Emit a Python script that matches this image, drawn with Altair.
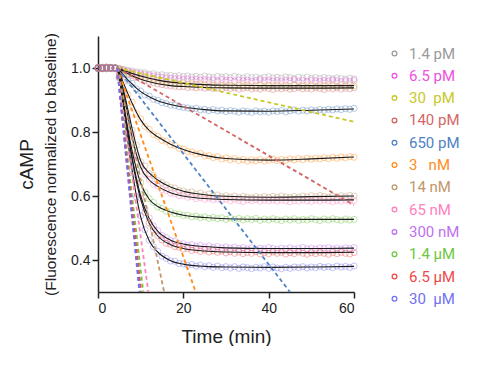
import altair as alt
import pandas as pd

# ---------------- data ----------------
series = ["1.4 pM", "6.5 pM", "30\u00a0\u00a0pM", "140 pM", "650 pM", "3\u00a0\u00a0\u00a0nM",
          "14 nM", "65 nM", "300 nM", "1.4 µM", "6.5 µM", "30\u00a0\u00a0µM"]
colors = ["#9a9a9a", "#f050e0", "#c8c828", "#d46666", "#4f82c4", "#ff8c1a",
          "#c0966a", "#ff80c0", "#c070f0", "#6cc83c", "#f04848", "#7070f0"]

times = list(range(61))  # minutes

obs_1p4pM = [1.002, 0.998, 1.003, 0.999, 1.001,
             0.998, 0.996, 0.992, 0.991, 0.988, 0.986,
             0.985, 0.981, 0.982, 0.978, 0.979, 0.976, 0.977, 0.974, 0.976, 0.973,
             0.975, 0.972, 0.974, 0.971, 0.975, 0.972, 0.970, 0.974, 0.971, 0.973,
             0.970, 0.974, 0.971, 0.969, 0.973, 0.970, 0.972, 0.968, 0.971, 0.973,
             0.969, 0.971, 0.968, 0.972, 0.970, 0.967, 0.971, 0.969, 0.972, 0.968,
             0.970, 0.967, 0.970, 0.968, 0.966, 0.969, 0.967, 0.965, 0.968, 0.966]
obs_6p5pM = [0.999, 1.002, 0.998, 1.001, 0.999,
             0.997, 0.993, 0.990, 0.986, 0.984, 0.981,
             0.979, 0.976, 0.975, 0.972, 0.971, 0.969, 0.968, 0.966, 0.967, 0.964,
             0.966, 0.963, 0.965, 0.962, 0.964, 0.961, 0.963, 0.960, 0.964, 0.961,
             0.962, 0.959, 0.963, 0.960, 0.962, 0.958, 0.961, 0.963, 0.960, 0.962,
             0.959, 0.961, 0.958, 0.962, 0.960, 0.963, 0.959, 0.961, 0.958, 0.962,
             0.960, 0.958, 0.961, 0.959, 0.962, 0.960, 0.957, 0.960, 0.958, 0.961]
obs_30pM = [1.001, 0.998, 1.002, 0.999, 1.000,
            0.997, 0.994, 0.987, 0.984, 0.978, 0.976,
            0.971, 0.967, 0.966, 0.961, 0.960, 0.957, 0.955, 0.954, 0.951, 0.953,
            0.949, 0.950, 0.948, 0.949, 0.947, 0.949, 0.945, 0.947, 0.944, 0.947,
            0.945, 0.943, 0.946, 0.944, 0.947, 0.943, 0.945, 0.946, 0.943, 0.945,
            0.944, 0.947, 0.943, 0.945, 0.942, 0.946, 0.944, 0.943, 0.946, 0.944,
            0.942, 0.945, 0.943, 0.946, 0.944, 0.942, 0.945, 0.943, 0.946, 0.944]
obs_140pM = [0.999, 1.002, 0.998, 1.001, 0.999,
             0.996, 0.990, 0.982, 0.977, 0.970, 0.965,
             0.962, 0.956, 0.954, 0.950, 0.948, 0.946, 0.944, 0.943, 0.941, 0.942,
             0.939, 0.940, 0.938, 0.940, 0.937, 0.939, 0.936, 0.938, 0.935, 0.939,
             0.936, 0.938, 0.934, 0.937, 0.939, 0.935, 0.937, 0.934, 0.938, 0.936,
             0.933, 0.937, 0.935, 0.938, 0.934, 0.936, 0.939, 0.935, 0.937, 0.934,
             0.938, 0.936, 0.933, 0.937, 0.935, 0.938, 0.934, 0.937, 0.935, 0.938]
obs_650pM = [1.001, 0.998, 1.002, 0.999, 1.001,
             0.992, 0.979, 0.961, 0.952, 0.935, 0.928,
             0.916, 0.912, 0.902, 0.899, 0.892, 0.889, 0.884, 0.883, 0.879, 0.877,
             0.875, 0.872, 0.874, 0.869, 0.871, 0.867, 0.870, 0.866, 0.868, 0.864,
             0.867, 0.865, 0.862, 0.866, 0.864, 0.861, 0.866, 0.863, 0.865, 0.862,
             0.866, 0.864, 0.867, 0.863, 0.866, 0.869, 0.865, 0.868, 0.866, 0.869,
             0.867, 0.870, 0.868, 0.871, 0.869, 0.872, 0.870, 0.873, 0.871, 0.874]
obs_3nM = [0.999, 1.002, 0.998, 1.001, 0.999,
           0.983, 0.955, 0.917, 0.893, 0.858, 0.841,
           0.818, 0.808, 0.792, 0.787, 0.774, 0.771, 0.760, 0.758, 0.749, 0.747,
           0.739, 0.738, 0.731, 0.733, 0.725, 0.726, 0.720, 0.723, 0.716, 0.719,
           0.713, 0.717, 0.711, 0.714, 0.709, 0.713, 0.710, 0.714, 0.709, 0.712,
           0.715, 0.711, 0.714, 0.712, 0.716, 0.713, 0.717, 0.714, 0.718, 0.715,
           0.718, 0.716, 0.720, 0.717, 0.721, 0.718, 0.722, 0.719, 0.723, 0.721]
obs_14nM = [1.001, 0.998, 1.002, 0.999, 1.000,
            0.983, 0.928, 0.874, 0.806, 0.759, 0.707,
            0.694, 0.669, 0.664, 0.648, 0.642, 0.634, 0.627, 0.625, 0.617, 0.616,
            0.611, 0.613, 0.606, 0.609, 0.603, 0.606, 0.600, 0.603, 0.598, 0.601,
            0.597, 0.600, 0.595, 0.599, 0.596, 0.594, 0.598, 0.595, 0.599, 0.596,
            0.599, 0.596, 0.600, 0.597, 0.595, 0.599, 0.596, 0.600, 0.597, 0.601,
            0.598, 0.602, 0.599, 0.596, 0.600, 0.597, 0.601, 0.598, 0.602, 0.600]
obs_65nM = [0.998, 1.001, 0.999, 1.002, 0.998,
            0.978, 0.923, 0.846, 0.789, 0.726, 0.693,
            0.668, 0.652, 0.637, 0.631, 0.620, 0.617, 0.609, 0.607, 0.601, 0.602,
            0.596, 0.598, 0.592, 0.595, 0.590, 0.593, 0.588, 0.591, 0.587, 0.590,
            0.585, 0.589, 0.586, 0.583, 0.588, 0.585, 0.589, 0.584, 0.587, 0.585,
            0.588, 0.584, 0.587, 0.585, 0.582, 0.586, 0.584, 0.588, 0.585, 0.583,
            0.587, 0.584, 0.588, 0.585, 0.582, 0.586, 0.584, 0.587, 0.583, 0.586]
obs_300nM = [1.002, 0.999, 1.001, 0.998, 1.000,
             0.972, 0.893, 0.796, 0.724, 0.651, 0.604,
             0.561, 0.532, 0.507, 0.492, 0.477, 0.470, 0.461, 0.459, 0.452, 0.451,
             0.446, 0.448, 0.443, 0.446, 0.441, 0.444, 0.439, 0.442, 0.438, 0.441,
             0.437, 0.440, 0.436, 0.439, 0.435, 0.438, 0.434, 0.437, 0.435, 0.439,
             0.436, 0.433, 0.437, 0.435, 0.438, 0.434, 0.436, 0.439, 0.435, 0.437,
             0.434, 0.438, 0.436, 0.439, 0.435, 0.437, 0.434, 0.438, 0.436, 0.439]
obs_1p4uM = [0.999, 1.002, 0.998, 1.001, 0.999,
             0.973, 0.893, 0.806, 0.743, 0.681, 0.643,
             0.611, 0.592, 0.580, 0.566, 0.561, 0.553, 0.551, 0.545, 0.544, 0.539,
             0.540, 0.535, 0.537, 0.532, 0.535, 0.530, 0.533, 0.529, 0.532, 0.527,
             0.531, 0.527, 0.530, 0.525, 0.529, 0.526, 0.530, 0.524, 0.528, 0.525,
             0.529, 0.526, 0.523, 0.528, 0.525, 0.529, 0.524, 0.527, 0.525, 0.529,
             0.526, 0.523, 0.528, 0.525, 0.529, 0.526, 0.524, 0.528, 0.525, 0.527]
obs_6p5uM = [1.001, 0.998, 1.002, 0.999, 1.001,
             0.971, 0.888, 0.791, 0.718, 0.641, 0.593,
             0.548, 0.516, 0.494, 0.476, 0.463, 0.452, 0.449, 0.442, 0.440, 0.434,
             0.436, 0.430, 0.433, 0.427, 0.431, 0.425, 0.429, 0.424, 0.428, 0.422,
             0.426, 0.421, 0.425, 0.420, 0.424, 0.421, 0.426, 0.419, 0.423, 0.420,
             0.425, 0.421, 0.424, 0.419, 0.423, 0.420, 0.425, 0.421, 0.418, 0.423,
             0.420, 0.424, 0.421, 0.418, 0.423, 0.420, 0.424, 0.421, 0.419, 0.423]
obs_30uM = [0.998, 1.001, 0.999, 1.002, 0.998,
            0.968, 0.873, 0.766, 0.684, 0.597, 0.538,
            0.495, 0.462, 0.441, 0.427, 0.412, 0.405, 0.397, 0.396, 0.389, 0.388,
            0.383, 0.386, 0.381, 0.384, 0.379, 0.382, 0.377, 0.381, 0.376, 0.379,
            0.375, 0.379, 0.374, 0.378, 0.376, 0.373, 0.377, 0.375, 0.379, 0.374,
            0.378, 0.375, 0.373, 0.377, 0.374, 0.378, 0.376, 0.379, 0.375, 0.378,
            0.376, 0.380, 0.377, 0.379, 0.376, 0.381, 0.378, 0.380, 0.377, 0.381]

obs_values = [obs_1p4pM, obs_6p5pM, obs_30pM, obs_140pM, obs_650pM, obs_3nM,
              obs_14nM, obs_65nM, obs_300nM, obs_1p4uM, obs_6p5uM, obs_30uM]

# fitted curves (black lines)
fit_times = [4.5, 5, 6, 7, 8, 9, 10, 12, 14, 17, 20, 25, 30, 40, 50, 60]
fit_series = series[2:]
fit_30pM = [1, 0.998, 0.993, 0.988, 0.983, 0.979, 0.975, 0.968, 0.962, 0.956, 0.952, 0.948, 0.946, 0.945, 0.945, 0.945]
fit_140pM = [1, 0.997, 0.990, 0.983, 0.976, 0.970, 0.965, 0.957, 0.951, 0.945, 0.942, 0.939, 0.938, 0.937, 0.937, 0.938]
fit_650pM = [1, 0.993, 0.978, 0.963, 0.950, 0.937, 0.926, 0.910, 0.898, 0.886, 0.878, 0.870, 0.866, 0.865, 0.868, 0.872]
fit_3nM = [1, 0.985, 0.952, 0.920, 0.890, 0.862, 0.838, 0.805, 0.785, 0.762, 0.745, 0.727, 0.717, 0.712, 0.716, 0.722]
fit_14nM = [1, 0.985, 0.930, 0.870, 0.810, 0.755, 0.710, 0.672, 0.650, 0.628, 0.615, 0.604, 0.599, 0.596, 0.598, 0.600]
fit_65nM = [1, 0.980, 0.920, 0.850, 0.785, 0.730, 0.690, 0.650, 0.630, 0.610, 0.600, 0.592, 0.589, 0.587, 0.587, 0.588]
fit_300nM = [1, 0.975, 0.890, 0.800, 0.720, 0.655, 0.600, 0.530, 0.490, 0.462, 0.450, 0.442, 0.438, 0.436, 0.436, 0.437]
fit_1p4uM = [1, 0.975, 0.890, 0.810, 0.740, 0.685, 0.640, 0.590, 0.567, 0.550, 0.540, 0.533, 0.529, 0.527, 0.527, 0.527]
fit_6p5uM = [1, 0.975, 0.885, 0.795, 0.715, 0.645, 0.590, 0.515, 0.475, 0.448, 0.436, 0.428, 0.425, 0.423, 0.423, 0.424]
fit_30uM = [1, 0.970, 0.870, 0.770, 0.680, 0.600, 0.535, 0.460, 0.425, 0.398, 0.387, 0.380, 0.378, 0.377, 0.378, 0.380]
fit_values = [fit_30pM, fit_140pM, fit_650pM, fit_3nM, fit_14nM, fit_65nM,
              fit_300nM, fit_1p4uM, fit_6p5uM, fit_30uM]

# dashed initial-rate lines: start point and end point
tan_series = series[2:]
tan_start_t = 4.5
tan_start_v = 1.0
tan_end_t = [60, 60, 45, 22.9, 15.5, 11.8, 9.8, 10.6, 10.1, 9.7]
tan_end_v = [0.832, 0.572, 0.3, 0.3, 0.3, 0.3, 0.3, 0.3, 0.3, 0.3]

x_ticks = [0, 20, 40, 60]
y_ticks = [0.4, 0.6, 0.8, 1.0]

# ---------------- tables ----------------
obs_df = pd.DataFrame([{"s": s, "t": t, "v": v}
                       for s, vals in zip(series, obs_values)
                       for t, v in zip(times, vals)])
fit_df = pd.DataFrame([{"s": s, "t": t, "v": v}
                       for s, vals in zip(fit_series, fit_values)
                       for t, v in zip(fit_times, vals)])
tan_rows = []
for s, te, ve in zip(tan_series, tan_end_t, tan_end_v):
    tan_rows.append({"s": s, "t": tan_start_t, "v": tan_start_v})
    tan_rows.append({"s": s, "t": te, "v": ve})
tan_df = pd.DataFrame(tan_rows)

FONT = "Liberation Sans"

x_enc = alt.X("t:Q", scale=alt.Scale(domain=[0, 60], nice=False),
              axis=alt.Axis(values=x_ticks, title="Time (min)", titleFontSize=19,
                            titlePadding=12, labelFontSize=14, labelPadding=3))
y_enc = alt.Y("v:Q", scale=alt.Scale(domain=[0.3, 1.1], nice=False, zero=False),
              axis=alt.Axis(values=y_ticks, format=".1f",
                            title="(Fluorescence normalized to baseline)",
                            titleFontSize=15.5, titlePadding=12, labelFontSize=14,
                            labelPadding=2))
color_scale = alt.Scale(domain=series, range=colors)

points = alt.Chart(obs_df).mark_point(
    shape="circle", filled=False, size=38, strokeWidth=1, opacity=0.42
).encode(
    x=x_enc, y=y_enc,
    color=alt.Color("s:N", scale=color_scale, sort=series,
                    legend=alt.Legend(orient="none", legendX=289, legendY=10, title=None,
                                      symbolType="circle", symbolSize=22,
                                      symbolStrokeWidth=1.3, symbolOpacity=1,
                                      labelFont="Roboto", labelFontSize=15,
                                      labelOffset=7, rowPadding=6.3, padding=0,
                                      labelColor={"expr": "scale('color', datum.value)"})),
)

fits = alt.Chart(fit_df).mark_line(
    color="#1a1a1a", strokeWidth=1.1, interpolate="monotone"
).encode(x=x_enc, y=y_enc, detail="s:N")

tangents = alt.Chart(tan_df).mark_line(
    strokeDash=[4, 3], strokeWidth=1.8
).encode(
    x=x_enc, y=y_enc,
    color=alt.Color("s:N", scale=color_scale, legend=None),
    detail="s:N",
)

main = alt.layer(points, fits, tangents)

camp_axis = alt.Chart(fit_df).mark_line(opacity=0).encode(
    x=x_enc,
    y=alt.Y("v:Q", scale=alt.Scale(domain=[0.3, 1.1], nice=False, zero=False),
            axis=alt.Axis(orient="left", title="cAMP", labels=False, ticks=False,
                          domain=False, grid=False, titleFontSize=19, titlePadding=62)),
    detail="s:N",
)

chart = alt.layer(main, camp_axis).resolve_scale(y="independent").properties(
    width=256, height=256,
    padding={"left": 9, "top": 24, "right": 0, "bottom": 0},
).configure_view(stroke=None).configure_axis(
    grid=False, domainColor="#222", domainWidth=1.5, tickColor="#222", tickWidth=1.5,
    tickSize=6, labelFont=FONT, labelColor="#222", titleFont=FONT, titleColor="#222",
    titleFontWeight="normal",
)

chart.save("out.html", embed_options={"renderer": "svg", "actions": False})
